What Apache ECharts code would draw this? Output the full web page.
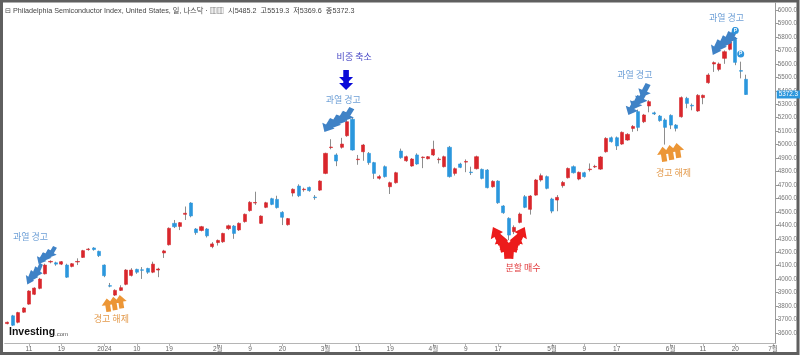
<!DOCTYPE html>
<html><head><meta charset="utf-8">
<script src="https://cdn.jsdelivr.net/npm/echarts@6/dist/echarts.min.js"></script>
<style>html,body{margin:0;padding:0;background:#fff}#c{width:800px;height:356px}</style>
</head><body><div id="c"></div>
<script>
// ---- data ----
const dates = [
'12-05','12-06','12-07','12-08','12-11','12-12','12-13','12-14','12-15','12-18','12-19','12-20','12-21','12-22','12-26','12-27','12-28','12-29',
'01-02','01-03','01-04','01-05','01-08','01-09','01-10','01-11','01-12','01-16','01-17','01-18','01-19','01-22','01-23','01-24','01-25','01-26','01-29','01-30','01-31',
'02-01','02-02','02-05','02-06','02-07','02-08','02-09','02-12','02-13','02-14','02-15','02-16','02-20','02-21','02-22','02-23','02-26','02-27','02-28','02-29',
'03-01','03-04','03-05','03-06','03-07','03-08','03-11','03-12','03-13','03-14','03-15','03-18','03-19','03-20','03-21','03-22','03-25','03-26','03-27','03-28',
'04-01','04-02','04-03','04-04','04-05','04-08','04-09','04-10','04-11','04-12','04-15','04-16','04-17','04-18','04-19','04-22','04-23','04-24','04-25','04-26','04-29','04-30',
'05-01','05-02','05-03','05-06','05-07','05-08','05-09','05-10','05-13','05-14','05-15','05-16','05-17','05-20','05-21','05-22','05-23','05-24','05-28','05-29','05-30','05-31',
'06-03','06-04','06-05','06-06','06-07','06-10','06-11','06-12','06-13','06-14','06-17','06-18','06-20','06-21','06-24',
'06-25','06-26','06-27','06-28','07-01'];
const opens = [3670,3728,3680,3755,3815,3888,3932,4040,4128,4122,4112,4105,4095,4128,4162,4220,4232,4207,
4105,3952,3882,3917,3962,4028,4073,4070,4080,4052,4068,4195,4256,4415,4392,4482,4566,4373,4362,4373,4242,
4272,4278,4376,4395,4366,4428,4510,4566,4415,4534,4598,4593,4497,4405,4640,4692,4665,4682,4610,4662,
4786,4978,4923,4980,5066,5188,4888,4947,4935,4866,4750,4836,4687,4717,4952,4880,4841,4923,4903,4895,
4923,4888,4836,4980,4786,4856,4870,4796,4821,4816,4811,4687,4729,4544,4452,4353,4422,4613,4519,4625,4737,4762,
4596,4588,4695,4754,4836,4744,4791,4814,4834,4818,4947,5051,5051,5004,5034,5120,5245,5170,5287,5236,5212,5183,
5217,5145,5207,5344,5292,5250,5349,5460,5599,5559,5641,5708,5782,5550,5485.2];
const closes = [3680,3658,3752,3786,3912,3934,4001,4105,4132,4112,4130,4015,4115,4132,4212,4224,4220,4175,
4026,3948,3917,3937,4068,4068,4052,4066,4052,4112,4076,4210,4378,4390,4420,4490,4470,4346,4390,4322,4262,
4288,4340,4397,4340,4415,4482,4571,4570,4469,4568,4556,4532,4460,4450,4668,4620,4669,4658,4606,4729,
4935,4982,4878,5004,5170,4960,4892,4997,4866,4786,4762,4762,4717,4791,4903,4910,4893,4856,4907,4910,
4965,4892,4910,4762,4821,4831,4875,4792,4910,4749,4680,4727,4568,4494,4328,4385,4484,4534,4618,4737,4769,4675,
4506,4608,4719,4823,4791,4794,4762,4818,4838,4908,5046,5022,4990,5091,5076,5135,5128,5220,5319,5228,5178,5128,
5145,5121,5349,5306,5287,5366,5366,5517,5609,5599,5690,5765,5611,5545,5372.3];
const lows = [3665,3652,3672,3750,3810,3882,3925,4035,4118,4100,4105,4010,4088,4105,4158,4212,4212,4165,
4015,3940,3875,3912,3955,4020,4040,4002,4040,4045,4015,4158,4250,4380,4365,4440,4460,4330,4355,4310,4230,
4250,4270,4365,4300,4358,4420,4502,4552,4410,4528,4550,4525,4402,4398,4615,4610,4650,4650,4590,4655,
4780,4965,4840,4970,5058,4955,4850,4880,4850,4745,4740,4755,4633,4710,4895,4872,4835,4850,4825,4890,
4915,4860,4830,4755,4770,4825,4795,4774,4815,4742,4675,4680,4560,4486,4290,4335,4415,4528,4480,4620,4725,4668,
4490,4505,4680,4748,4785,4735,4755,4800,4826,4812,4940,5015,4960,4998,5028,5095,5100,5160,5240,5220,5170,5000,
5115,5098,5200,5270,5255,5243,5300,5452,5540,5545,5600,5700,5590,5492,5369.6];
const highs = [3685,3735,3758,3792,3918,3940,4010,4115,4140,4130,4135,4115,4120,4155,4218,4232,4238,4212,
4110,3972,3925,3955,4075,4082,4078,4090,4085,4130,4085,4218,4385,4440,4425,4540,4572,4380,4396,4380,4275,
4295,4345,4405,4402,4422,4488,4580,4650,4475,4575,4605,4620,4505,4455,4675,4705,4680,4688,4625,4735,
4940,5040,4935,5050,5185,5205,4923,5005,4945,4872,4775,4845,4725,4798,4970,4918,4900,4935,4912,4915,
5029,4905,4918,4990,4830,4865,4890,4836,4918,4822,4818,4735,4735,4550,4460,4400,4495,4625,4625,4745,4785,4770,
4605,4625,4730,4830,4845,4800,4798,4860,4850,4915,5055,5060,5060,5098,5085,5145,5260,5228,5330,5245,5220,5195,
5225,5152,5358,5355,5305,5375,5372,5530,5618,5610,5700,5775,5800,5616,5519.3];
const labelDates = ['12-11','12-19','01-02','01-10','01-19','02-01','02-09','02-20','03-01','03-11','03-19','04-01','04-09','04-17','05-01','05-09','05-17','06-03','06-11','06-20','07-01'];
const labelTexts = ['11','19','2024','10','19','2월','9','20','3월','11','19','4월','9','17','5월','9','17','6월','11','20','7월'];
const yTicks = [3600,3700,3800,3900,4000,4100,4200,4300,4400,4500,4600,4700,4800,4900,5000,5100,5200,5300,5400,5500,5600,5700,5800,5900,6000];
const lastClose = 5372.3;

// ---- build ----
const labelMap = {};
labelDates.forEach((d, k) => { labelMap[d] = labelTexts[k]; });
const showLabel = (i, v) => labelMap[v] !== undefined;
const wickData = opens.map((o, i) => [o, closes[i], lows[i], highs[i]]);
const bodyData = opens.map((o, i) => [o, closes[i], Math.min(o, closes[i]), Math.max(o, closes[i])]);

const UP = '#d9262c', DOWN = '#2b97dd';
const ARROW_BLUE = '#3f82c6', ORANGE = '#ec9636', RED_AR = '#ec1b1b';

function arrowPoly(tx, ty, angDeg, up) {
  const s = up ? -1 : 1;
  const pts = [[-2.6,-16],[2.6,-16],[2.6,-8],[6.5,-8],[0,0],[-6.5,-8],[-2.6,-8]].map(p => [p[0], p[1] * s]);
  const a = angDeg * Math.PI / 180, c = Math.cos(a), sn = Math.sin(a);
  return 'M' + pts.map(p => (tx + p[0]*c - p[1]*sn).toFixed(2) + ',' + (ty + p[0]*sn + p[1]*c).toFixed(2)).join('L') + 'Z';
}
function cluster(tips, ang, up) {
  return 'path://' + tips.map(t => arrowPoly(t[0], t[1], t[2] !== undefined ? t[2] : ang, up)).join(' ');
}
const blue3 = cluster([[0,0],[6,-4],[12,-8]], 28, false);
const blue4 = cluster([[0,0],[6,-4],[12,-8],[18,-12]], 28, false);
const blue4steep = cluster([[0,0],[4,-6],[9,-11],[12,-19]], 25, false);
const orange3 = cluster([[0,0],[7,-2],[14,-4]], -8, true);
const redV = cluster([[-15,0,-28],[-9,5,-15],[-3,10,-5],[3,10,5],[9,5,15],[15,0,28]], 0, true);
const dblDown = 'path://' + arrowPoly(0, 0, 0, false) + ' ' + arrowPoly(0, -7, 0, false);

function arrowMark(date, value, sym, size, color, off) {
  return { coord: [date, value], symbol: sym, symbolSize: size, symbolOffset: off || [0, 0],
    itemStyle: { color: color }, label: { show: false } };
}
function textMark(date, value, text, color, off) {
  return { coord: [date, value], symbol: 'rect', symbolSize: [1, 1], symbolOffset: off || [0, 0],
    itemStyle: { color: 'rgba(0,0,0,0)' },
    label: { show: true, position: 'inside', formatter: text, color: color, fontSize: 9,
      fontFamily: "'Noto Sans CJK KR', sans-serif" } };
}
function pMark(date, value) {
  return { coord: [date, value], symbol: 'circle', symbolSize: 7, itemStyle: { color: '#2e95dc' },
    label: { show: true, position: 'inside', formatter: 'P', color: '#fff', fontSize: 5, fontWeight: 'bold' } };
}

const marks = [
  textMark('12-11', 4313, '과열 경고', '#6d9fd6', [1.5, 0]),
  arrowMark('12-12', 4042, blue3, [17, 22], ARROW_BLUE),
  arrowMark('12-14', 4180, blue3, [20, 18], ARROW_BLUE, [1.8, 0]),
  textMark('01-03', 3704, '경고 해제', '#e39a4c', [1.5, 0]),
  arrowMark('01-04', 3819, orange3, [25, 17], ORANGE, [-1, 0]),
  textMark('03-08', 5651, '비중 축소', '#4a4ac6', [1.7, 0]),
  arrowMark('03-07', 5480, dblDown, [14, 20], '#0a0ad8', [-1, 0]),
  textMark('03-06', 5331, '과열 경고', '#6d9fd6', [1.5, 0]),
  arrowMark('03-05', 5186, blue4, [32, 25], ARROW_BLUE, [2, 0]),
  arrowMark('04-19', 4269, redV, [36, 32], RED_AR),
  textMark('04-24', 4083, '분할 매수', '#e0383a', [-2, 0]),
  textMark('05-22', 5517, '과열 경고', '#6d9fd6', [2, 0]),
  arrowMark('05-23', 5339, blue4steep, [25, 32], ARROW_BLUE),
  textMark('06-04', 4789, '경고 해제', '#e39a4c', [-2.5, 0]),
  arrowMark('06-03', 4941, orange3, [27, 19], ORANGE),
  textMark('06-17', 5941, '과열 경고', '#6d9fd6', [2, 0]),
  arrowMark('06-17', 5770, blue4, [27, 28], ARROW_BLUE),
  pMark('06-20', 5848),
  pMark('06-21', 5673)
];

const chart = echarts.init(document.getElementById('c'), null, { renderer: 'canvas' });
chart.setOption({
  animation: false,
  backgroundColor: '#fff',
  grid: { left: 4.7, right: 22.5, top: 3, bottom: 13 },
  xAxis: {
    type: 'category', data: dates, boundaryGap: true,
    axisLine: { lineStyle: { color: '#b5b5b5', width: 1 } },
    axisTick: { show: true, alignWithLabel: true, interval: showLabel, length: 3, lineStyle: { color: '#b5b5b5' } },
    axisLabel: { interval: showLabel, formatter: v => labelMap[v] || '', fontSize: 6.5, color: '#666', margin: 3,
      fontFamily: "'Liberation Sans','Noto Sans CJK KR',sans-serif" },
    splitLine: { show: false }
  },
  yAxis: {
    type: 'value', position: 'right', min: 3526, max: 6052, scale: true,
    splitLine: { show: false },
    axisLine: { show: true, lineStyle: { color: '#9a9a9a', width: 1 } },
    axisTick: { show: true, customValues: yTicks, length: 3, lineStyle: { color: '#9a9a9a' } },
    axisLabel: { customValues: yTicks, formatter: v => v.toFixed(1), fontSize: 6.3, color: '#777', margin: 2,
      fontFamily: "'Liberation Sans',sans-serif" }
  },
  series: [
    { type: 'candlestick', data: wickData, barWidth: 0.3, silent: true,
      itemStyle: { color: '#8d8d8d', color0: '#8d8d8d', borderColor: '#8d8d8d', borderColor0: '#8d8d8d', borderColorDoji: '#8d8d8d', borderWidth: 1 } },
    { type: 'candlestick', data: bodyData, barWidth: 3.6, silent: true,
      itemStyle: { color: UP, color0: DOWN, borderColor: UP, borderColor0: DOWN, borderColorDoji: '#444', borderWidth: 0.6 },
      markPoint: { silent: true, data: marks },
      markLine: { silent: true, symbol: ['none', 'none'], lineStyle: { color: 'rgba(0,0,0,0)', width: 0 },
        label: { show: true, position: 'end', distance: 1, formatter: String(lastClose), backgroundColor: DOWN, color: '#fff',
          fontSize: 6.3, padding: [1, 2, 1, 2], fontFamily: "'Liberation Sans',sans-serif" },
        data: [{ yAxis: lastClose }] } }
  ],
  graphic: [
    { type: 'text', left: 5, top: 7, silent: true,
      style: { text: '⊟ Philadelphia Semiconductor Index, United States, 일, 나스닥 · ▥▥  시5485.2  고5519.3  저5369.6  종5372.3',
        fontSize: 7.2, fill: '#444', fontFamily: "'Liberation Sans','Noto Sans CJK KR',sans-serif" } },
    { type: 'text', left: 9, top: 327, silent: true,
      style: { text: '{a|Investing}{b|.com}',
        rich: { a: { fontSize: 10.5, fontWeight: 'bold', fill: '#111', fontFamily: "'Liberation Sans',sans-serif" },
                b: { fontSize: 6, fill: '#555', fontFamily: "'Liberation Sans',sans-serif", padding: [3, 0, 0, 0] } } } },
    { type: 'rect', silent: true, shape: { x: 1.5, y: 1, width: 796.5, height: 352.5 },
      style: { fill: 'none', stroke: '#5f5f5f', lineWidth: 3 } }
  ]
});
</script>
</body></html>
